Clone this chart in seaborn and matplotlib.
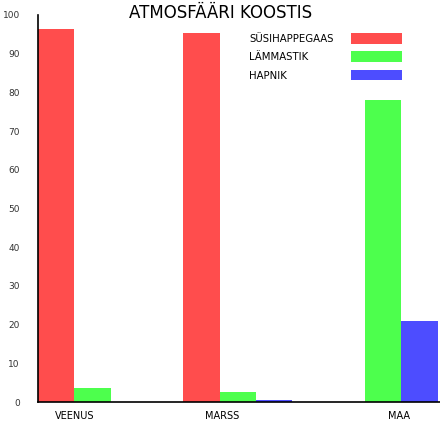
import pandas as pd
import seaborn as sns
import matplotlib.pyplot as plt

# Atmosfääri koostis (%)
planets = ['VEENUS', 'MARSS', 'MAA']
gases = ['SÜSIHAPPEGAAS', 'LÄMMASTIK', 'HAPNIK']
co2 = [96.5, 95.3, 0.04]
n2 = [3.5, 2.7, 78.1]
o2 = [0.0, 0.4, 21.0]
colors = ['#ff4d4d', '#4dff4d', '#4d4dff']

rows = []
for i, p in enumerate(planets):
    rows.append((p, gases[0], co2[i]))
    rows.append((p, gases[1], n2[i]))
    rows.append((p, gases[2], o2[i]))
df = pd.DataFrame(rows, columns=['planeet', 'gaas', 'protsent'])

sns.set_style('white')
plt.rcParams['font.family'] = ['DejaVu Sans']
plt.rcParams['text.color'] = 'black'

fig = plt.figure(figsize=(4.4, 4.23), dpi=100)
ax = fig.add_axes([38 / 440, 1 - 402 / 423, 402 / 440, 387 / 423])

sns.barplot(data=df, x='planeet', y='protsent', hue='gaas', hue_order=gases,
            palette=colors, saturation=1, width=0.75, linewidth=0, ax=ax)

ax.set_xlim(-0.375, 2.39)
ax.set_ylim(0, 100)
ax.set_yticks(range(0, 101, 10))
ax.set_xlabel('')
ax.set_ylabel('')

# labels sit a bit off the group centres in the original
tick_shift = [-0.12, -0.11, 0.11]
ax.set_xticks([i + s for i, s in enumerate(tick_shift)])
ax.set_xticklabels(planets, fontsize=7, color='black')
ax.tick_params(axis='x', length=0, pad=6.5)
ax.tick_params(axis='y', length=0, pad=13, labelsize=6.5, labelcolor='#333333')

for side in ['top', 'right']:
    ax.spines[side].set_visible(False)
for side in ['left', 'bottom']:
    ax.spines[side].set_color('black')
    ax.spines[side].set_linewidth(1.2)

fig.text(221 / 440, 1 - 13 / 423, 'ATMOSFÄÄRI KOOSTIS', fontsize=12,
         color='black', ha='center', va='center')

handles, labels = ax.get_legend_handles_labels()
leg = ax.legend(handles, labels, loc='upper left', bbox_to_anchor=(211 / 402, 1 - 18 / 387),
                frameon=False, markerfirst=False, fontsize=7.3, handlelength=5.0,
                handleheight=1.25, labelspacing=0.75, borderpad=0, borderaxespad=0)
for t in leg.get_texts():
    t.set_color('black')
# text left, colour box right-aligned in each row
for col in leg._legend_handle_box.get_children():
    for item in col.get_children():
        item.mode = 'expand'
        item.width = 153

fig.savefig('out.png', dpi=100)
